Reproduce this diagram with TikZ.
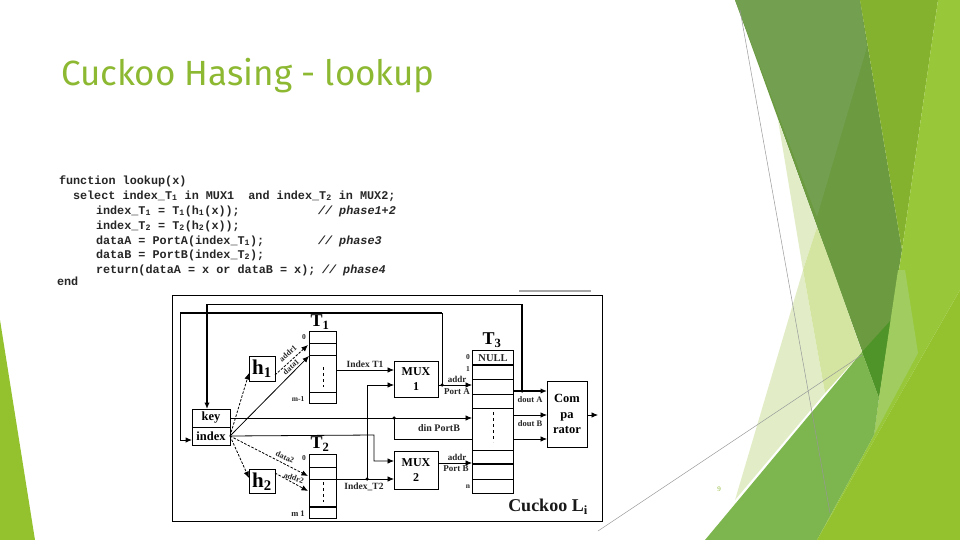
\documentclass[tikz,border=0pt]{standalone}
\usepackage{fontspec}
\setmainfont{Liberation Serif}
\setmonofont{Liberation Mono}
\newfontfamily\titlefont{Fira Sans}
\usetikzlibrary{arrows.meta,calc,positioning}
\newcommand{\fsz}[1]{\fontsize{#1}{#1}\selectfont}
\definecolor{titlegreen}{HTML}{8DB832}
\definecolor{facetA}{HTML}{72A050}
\definecolor{facetB}{HTML}{6B9A40}
\definecolor{facetC}{HTML}{85B22E}
\definecolor{facetD}{HTML}{98C83A}
\definecolor{facetE}{HTML}{4F9428}
\definecolor{facetF}{HTML}{7DB54E}
\definecolor{facetG}{HTML}{93C22E}
\definecolor{facetH}{HTML}{A0CC60}
\definecolor{facetI}{HTML}{E2EDC8}
\definecolor{facetJ}{HTML}{D3E5A0}

\begin{document}
\begin{tikzpicture}[x=1pt, y=-1pt, inner sep=0pt, outer sep=0pt,
  >={Latex[length=6.5pt,width=5.5pt]},
  box/.style={draw, line width=1pt, font=\fsz{12}\bfseries, align=center},
  cell/.style={line width=0.9pt},
  lbl/.style={font=\fsz{9}\bfseries, text=black!85},
  num/.style={font=\fsz{7.5}\bfseries, text=black!85},
  head/.style={font=\fsz{18}\bfseries},
  wire/.style={line width=0.8pt, ->},
  plain/.style={line width=0.8pt},
  heavy/.style={line width=2pt},
  hash/.style={line width=0.8pt, dash pattern=on 2.5pt off 1.5pt, ->},
  dot/.style={circle, fill, minimum size=3.5pt},
  code/.style={anchor=base west, font=\ttfamily\bfseries\fsz{11.8}, text=black!85},
  phase/.style={code, font=\ttfamily\bfseries\itshape\fsz{11.8}},
  gline/.style={line width=0.5pt, black!40}]
\useasboundingbox (0,0) rectangle (960,540);

% facets
\fill[facetB] (735,0) -- (860,0) -- (902,250) -- (891,320) -- (879,398) -- cycle;
\fill[facetA] (735,0) -- (860,0) -- (867,47) -- (817,217) -- cycle;
\fill[facetE] (862,352) -- (891,320) -- (879,398) -- cycle;
\fill[facetC] (860,0) -- (938,0) -- (902,250) -- cycle;
\fill[facetD] (938,0) -- (960,0) -- (960,290) -- (817,540) -- (874,435) -- (902,250) -- cycle;
\fill[facetH] (898,270) -- (905,270) -- (918,353) -- (874,435) -- (879,398) -- cycle;
\fill[facetI] (778,120) -- (817,227) -- (803,270) -- (825,393) -- (735,500) -- (803,270) -- cycle;
\fill[facetJ] (817,227) -- (833,270) -- (862,352) -- (825,393) -- (803,270) -- cycle;
\fill[facetF] (705,540) -- (862,352) -- (879,398) -- (874,435) -- (817,540) -- cycle;
\fill[facetG] (817,540) -- (960,290) -- (960,540) -- cycle;
\fill[facetG] (0,320) -- (35,540) -- (0,540) -- cycle;
\draw[gline] (740,10) -- (830,513);
\draw[gline] (598,531) -- (862,355);

% title and page number
\node[anchor=base west, font=\titlefont\fsz{35}, text=titlegreen] (title) at (61,86) {Cuckoo Hasing - lookup};
\node[font=\fsz{7}, text=titlegreen] (pagenum) at (719,489) {9};

% pseudo code
\node[code] (lineA) at (59,184) {function lookup(x)};
\node[code] (lineB) at (73,199) {select index\_T\textsubscript{1} in MUX1\ \ and index\_T\textsubscript{2} in MUX2;};
\node[code] (lineC) at (96,214) {index\_T\textsubscript{1} = T\textsubscript{1}(h\textsubscript{1}(x));};
\node[code] (lineD) at (96,229) {index\_T\textsubscript{2} = T\textsubscript{2}(h\textsubscript{2}(x));};
\node[code] (lineE) at (96,244) {dataA = PortA(index\_T\textsubscript{1});};
\node[code] (lineF) at (96,258) {dataB = PortB(index\_T\textsubscript{2});};
\node[code] (lineG) at (96,273) {return(dataA = x or dataB = x);};
\node[code] (lineH) at (57,285) {end};
\node[phase] (phaseA) at (318,214) {// phase1+2};
\node[phase] (phaseB) at (318,244) {// phase3};
\node[phase] (phaseC) at (322,273) {// phase4};

% frame
\fill[black!35] (519,289.5) rectangle (591,291.5);
\draw[line width=0.9pt, fill=white] (172,295) rectangle (602,521);

% blocks
\node[box, minimum width=38pt, minimum height=18pt, font=\fsz{12.5}\bfseries] (key) at (211,418) {key};
\node[box, minimum width=38pt, minimum height=18pt, font=\fsz{12.5}\bfseries] (index) at (211,436) {index};
\node[box, minimum width=26pt, minimum height=25pt, font=\fsz{21}\bfseries] (hone) at (262,368.5) {h\textsubscript{1}};
\node[box, minimum width=26pt, minimum height=24pt, font=\fsz{21}\bfseries] (htwo) at (262,481.5) {h\textsubscript{2}};
\node[box, minimum width=27pt, minimum height=72pt] (tone) at (322.5,367) {};
\node[box, minimum width=27pt, minimum height=64pt] (ttwo) at (322.5,486) {};
\node[box, minimum width=41pt, minimum height=143pt] (tthree) at (492.5,421.5) {};
\node[box, minimum width=44pt, minimum height=36pt] (muxone) at (416,379) {MUX\\[3pt]1};
\node[box, minimum width=44pt, minimum height=38pt] (muxtwo) at (416,470) {MUX\\[3pt]2};
\node[box, minimum width=40pt, minimum height=66pt, font=\fsz{12.5}\bfseries] (comp) at (567,414) {Com\\[3pt]pa\\[3pt]rator};

% table rows
\foreach \y in {343,355,392} \draw[cell] (tone.west |- 0,\y) -- (tone.east |- 0,\y);
\foreach \y in {467,479} \draw[cell] (ttwo.west |- 0,\y) -- (ttwo.east |- 0,\y);
\draw[heavy] (ttwo.west |- 0,507) -- (ttwo.east |- 0,507);
\foreach \y in {379,394,408,450,479} \draw[cell] (tthree.west |- 0,\y) -- (tthree.east |- 0,\y);
\foreach \y in {365,464} \draw[heavy] (tthree.west |- 0,\y) -- (tthree.east |- 0,\y);
\draw[cell, dashed] (323,367) -- (323,387);
\draw[cell, dashed] (323,482) -- (323,502);
\draw[cell, dashed] (493,412) -- (493,442);

% free ends
\coordinate (feedone) at (180,440);
\coordinate (dotA) at (442,385);
\coordinate (dotB) at (522,391);
\coordinate (out) at (598,415);
\coordinate (addrone) at (308,345);
\coordinate (dataone) at (309,356);
\coordinate (datatwo) at (308,476);
\coordinate (addrtwo) at (308,491);
\node[dot] (dotC) at (394,418) {};
\node[dot] (dotD) at (367,479) {};
\node[dot] (dotE) at (dotA) {};
\node[dot] (dotF) at (dotB) {};

% connectors
\draw[heavy] (180,313) -- (dotE |- 0,313);
\draw[plain] (dotE |- 0,313) -- (dotE.center);
\draw[line width=1pt, ->] (180,313) -- (feedone) -- (index.west |- feedone);
\draw[plain] (207,304) -- (dotF |- 0,304);
\draw[line width=1.6pt] (dotF |- 0,304) -- (dotF.center);
\draw[line width=1.6pt, ->] (207,304) -- (key.north -| 207,0);
\draw[wire] (key.east) -- (tthree.west |- key.east);
\draw[plain] (dotC.center) -- (dotC |- 0,439) -- (tthree.west |- 0,439);
\draw[wire] (index.east) -- (374,435) -- (374,461) -- (muxtwo.west |- 0,461);
\draw[wire] (tone.east |- 0,370) -- (muxone.west |- 0,370);
\draw[wire] (ttwo.east |- dotD) -- (muxtwo.west |- dotD);
\draw[wire] (dotD.center) -- (dotD |- dotE) -- (muxone.west |- dotE);
\draw[wire] (muxone.east |- dotE) -- (tthree.west |- dotE);
\draw[wire] (muxtwo.east |- 0,463) -- (tthree.west |- 0,463);
\draw[heavy, ->] (tthree.east |- dotF) -- (comp.west |- dotF);
\draw[wire] (tthree.east |- 0,415) -- (comp.west |- 0,415);
\draw[wire] (tthree.east |- 0,439) -- (comp.west |- 0,439);
\draw[wire] (comp.east |- out) -- (out);
\draw[hash] (index.east) -- (hone.west |- 0,373);
\draw[hash] (index.east) -- (htwo.west |- 0,478);
\draw[wire] (index.east) -- (dataone);
\draw[hash] (hone.east |- 0,375) -- (addrone);
\draw[hash] (index.east) -- (datatwo);
\draw[hash] (htwo.east |- 0,473) -- (addrtwo);

% labels
\node[head] (nameone) at (320,322) {T\textsubscript{1}};
\node[head] (nametwo) at (320,444) {T\textsubscript{2}};
\node[head] (namethree) at (492,340) {T\textsubscript{3}};
\node[num] (tonefirst) at (304,337) {0};
\node[num] (tonelast) at (298,399) {m-1};
\node[num] (ttwofirst) at (304,458) {0};
\node[num, font=\fsz{8.5}\bfseries] (ttwolast) at (298,514) {m 1};
\node[num] (tthreefirst) at (468,357) {0};
\node[num] (tthreesecond) at (468,369) {1};
\node[num] (tthreelast) at (468,487) {n};
\node[lbl, font=\fsz{10.5}\bfseries] (nullcell) at (493,358) {NULL};
\node[lbl, font=\fsz{9.5}\bfseries] (idxone) at (365,364) {Index T1};
\node[lbl, font=\fsz{9.5}\bfseries] (idxtwo) at (364,487) {Index\_T2};
\node[lbl, font=\fsz{10}\bfseries] (din) at (439,428) {din PortB};
\node[lbl] (addrA) at (457,379) {addr};
\node[lbl] (portA) at (457,392) {Port A};
\node[lbl] (addrB) at (457,457) {addr};
\node[lbl] (portB) at (456,469) {Port B};
\node[lbl, font=\fsz{8.5}\bfseries] (doutA) at (530,400) {dout A};
\node[lbl, font=\fsz{8.5}\bfseries] (doutB) at (530,424) {dout B};
\node[lbl, font=\fsz{8}\bfseries, rotate=42] (labaddrone) at (288,353.5) {addr1};
\node[lbl, font=\fsz{8}\bfseries, rotate=42] (labdataone) at (291,367) {data1};
\node[lbl, font=\fsz{8}\bfseries, rotate=-25] (labdatatwo) at (285,457) {data2};
\node[lbl, font=\fsz{8}\bfseries, rotate=-20] (labaddrtwo) at (294,478) {addr2};
\node[font=\fsz{18}\bfseries, text=black!90] (cuckoo) at (548,507) {Cuckoo L\textsubscript{i}};

\end{tikzpicture}
\end{document}
